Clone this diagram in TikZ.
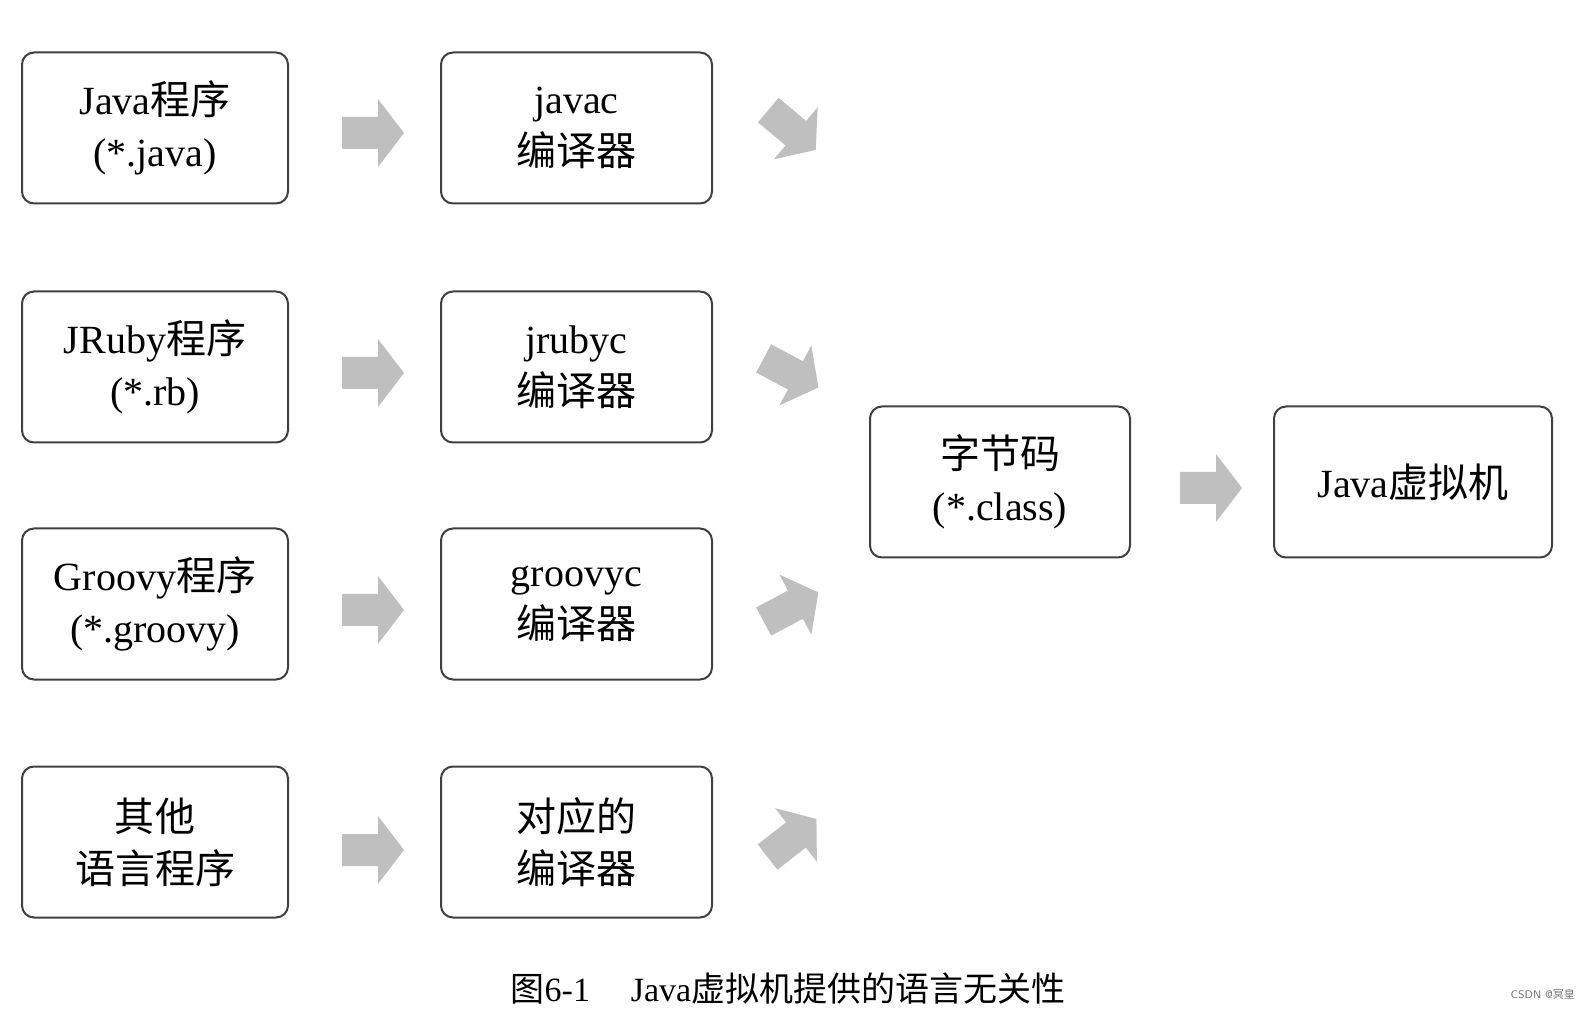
\documentclass[tikz,border=0pt]{standalone}
\usepackage{fontspec}
\setmainfont{Liberation Serif}
\newfontfamily\cjk{Noto Sans CJK SC}
\newcommand{\zh}[1]{{\cjk #1}}
\begin{document}
\begin{tikzpicture}[x=0.5pt,y=-0.5pt,
  box/.style={draw=black!75,line width=1pt,rounded corners=6pt,fill=white,font=\fontsize{20}{26}\selectfont,align=center,inner sep=0pt},
  fat/.pic={\fill[black!25] (-31,-16) -- (5,-16) -- (5,-34) -- (31,0) -- (5,34) -- (5,16) -- (-31,16) -- cycle;}]
\useasboundingbox (0,0) rectangle (1589,1020);
\foreach \n/\y/\a/\b in {r1/128/{Java\zh{程序}}/{(*.java)}, r2/367/{JRuby\zh{程序}}/{(*.rb)}, r3/604/{Groovy\zh{程序}}/{(*.groovy)}, r4/842/{\zh{其他}}/{\zh{语言程序}}}{
  \node[box,minimum width=133pt,minimum height=75.5pt] (s\n) at (155,\y) {\a\\\b};
}
\foreach \n/\y/\a in {r1/128/javac, r2/367/jrubyc, r3/604/groovyc, r4/842/{\zh{对应的}}}{
  \node[box,minimum width=135.5pt,minimum height=75.5pt] (c\n) at (576.5,\y) {\a\\\zh{编译器}};
}
\node[box,minimum width=130pt,minimum height=75.5pt] (bc) at (1000,482) {\zh{字节码}\\(*.class)};
\node[box,minimum width=139pt,minimum height=75.5pt] (jvm) at (1413,482) {Java\zh{虚拟机}};
\foreach \y in {133,373,610,850}{ \pic at (373,\y) {fat}; }
\pic[rotate=-40] at (792,130) {fat};
\pic[rotate=-28] at (791,373) {fat};
\pic[rotate=28] at (791,607) {fat};
\pic[rotate=38] at (792,838) {fat};
\pic at (1211,488) {fat};
\node[font=\fontsize{17}{20}\selectfont] (cap) at (788,989) {\zh{图}6-1\hspace{1.2em}Java\zh{虚拟机提供的语言无关性}};
\node[font=\fontsize{5.5}{7}\selectfont\sffamily,text=black!55,anchor=east] (wm) at (1582,994) {CSDN @\zh{冥皇}};
\end{tikzpicture}
\end{document}
